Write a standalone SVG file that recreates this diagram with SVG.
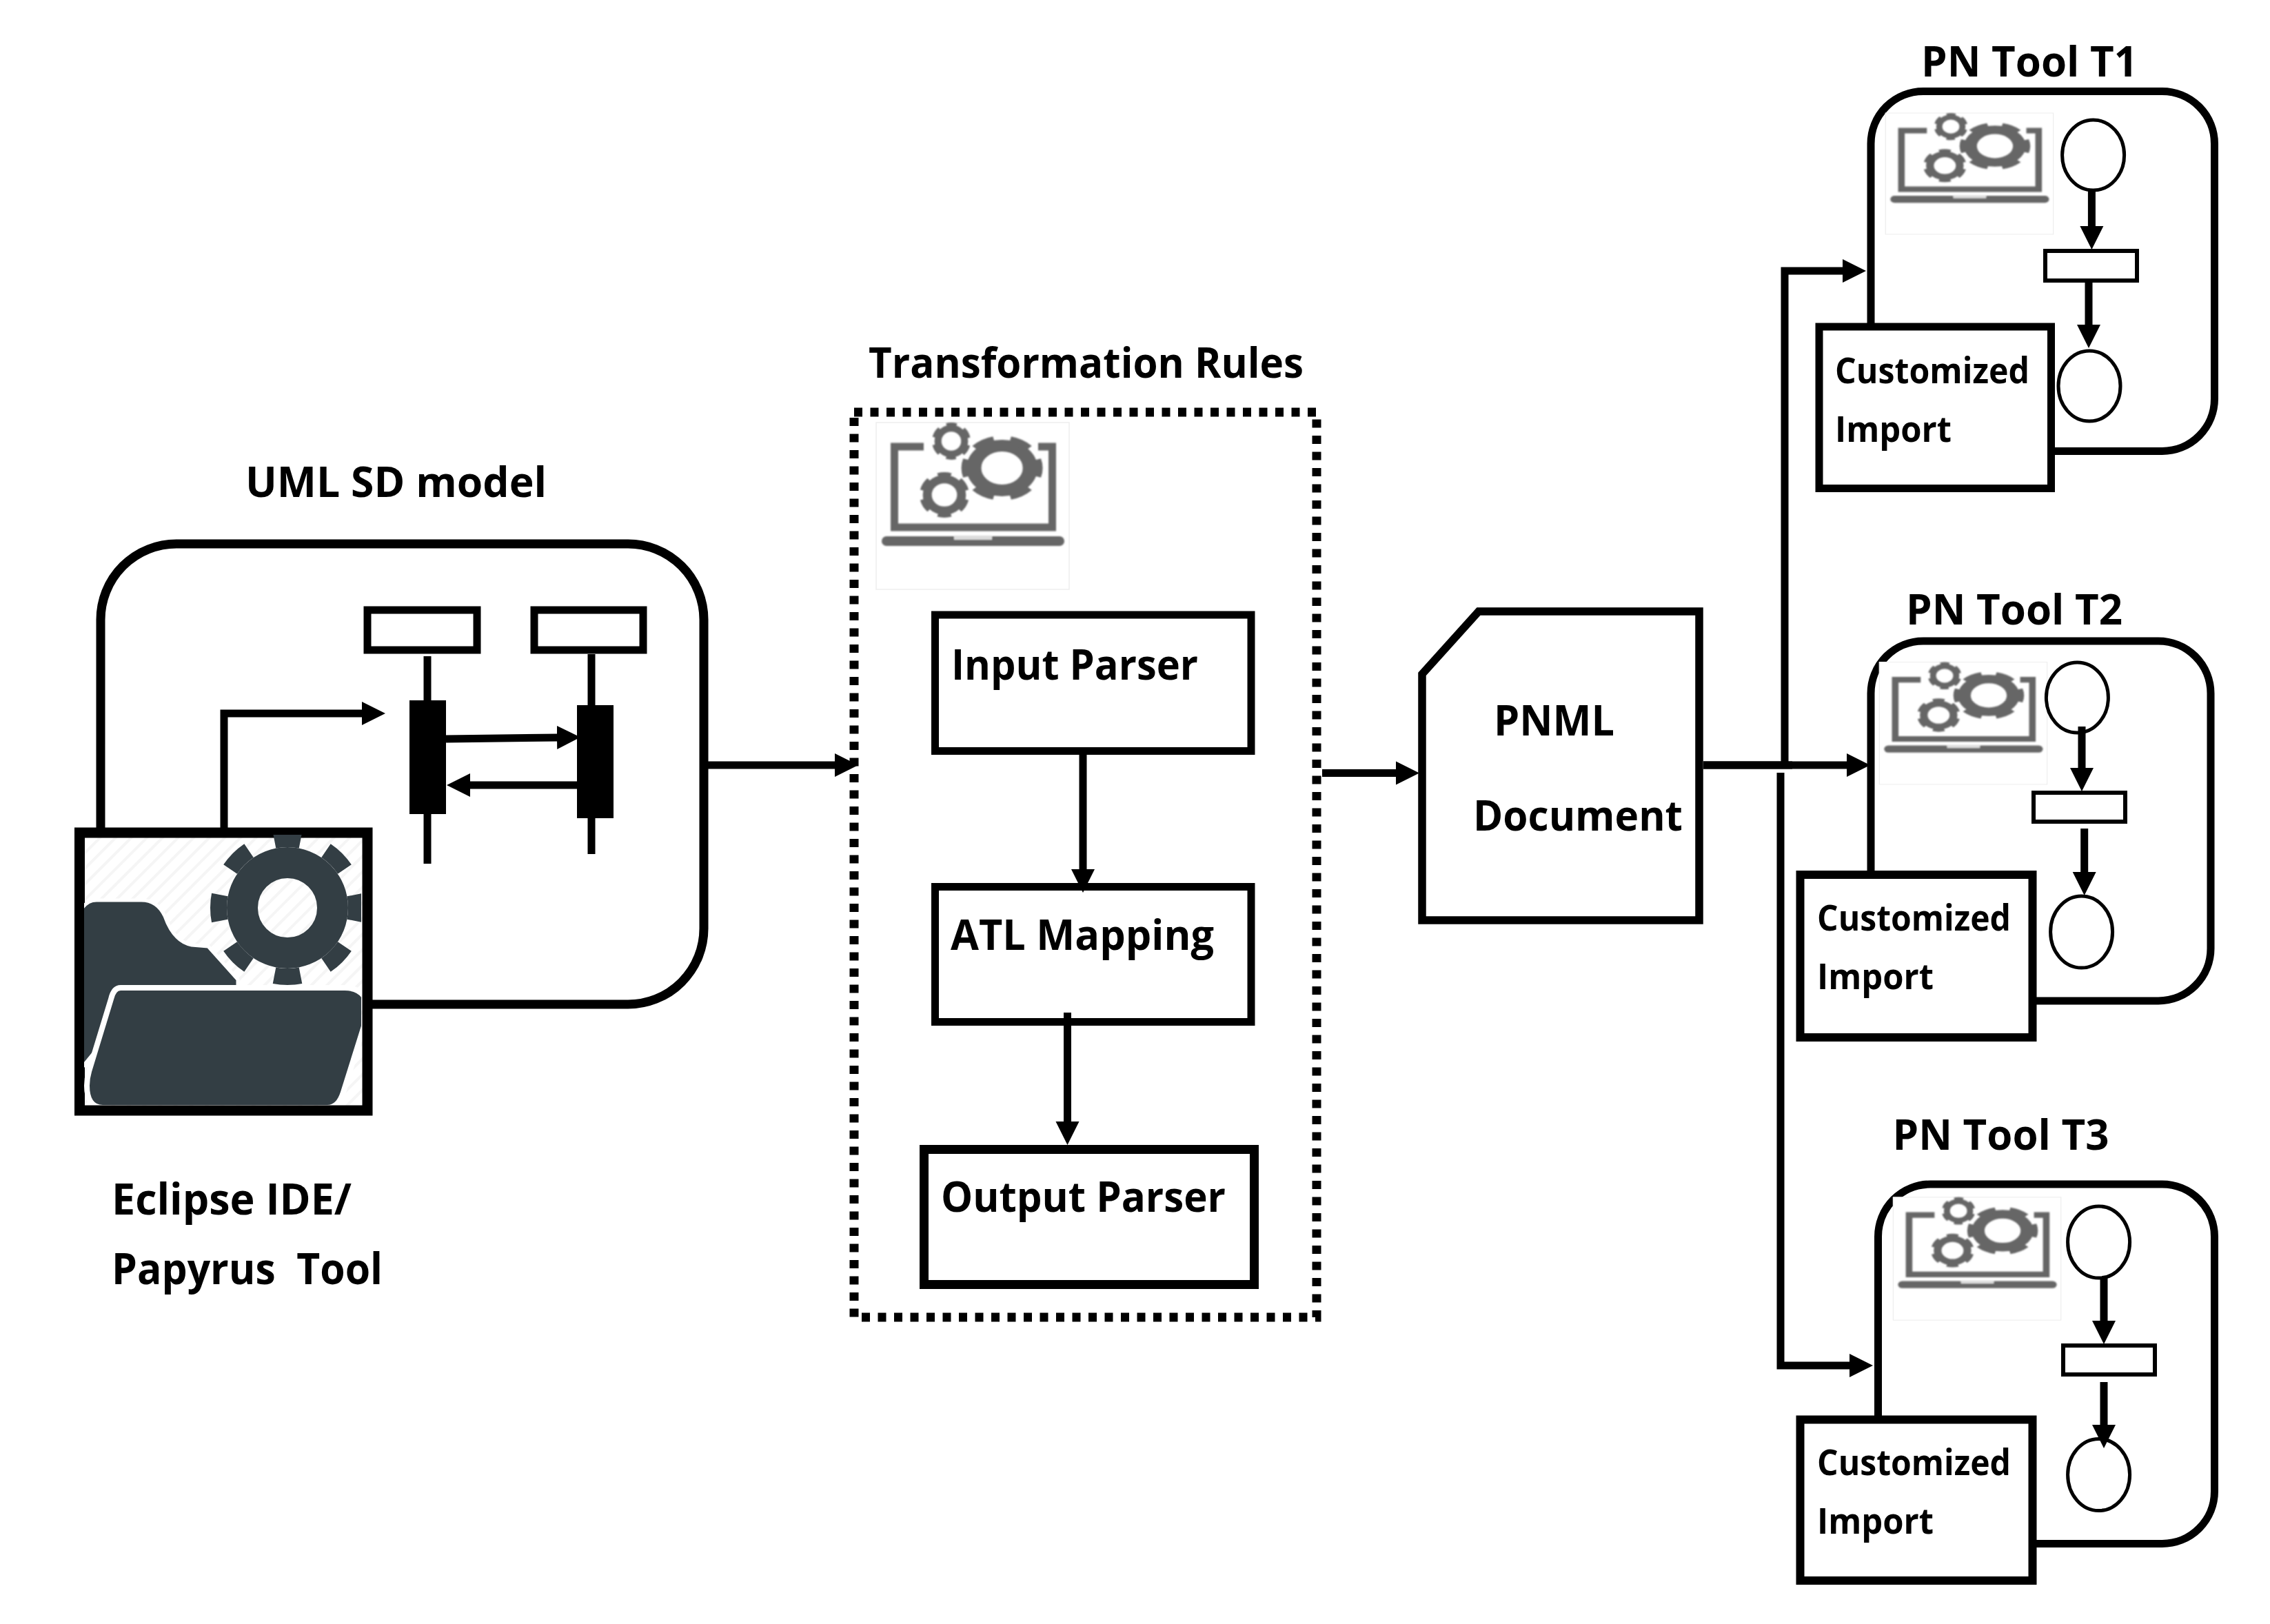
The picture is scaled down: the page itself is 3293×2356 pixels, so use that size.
<svg xmlns="http://www.w3.org/2000/svg" xmlns:xlink="http://www.w3.org/1999/xlink" width="3293" height="2356" viewBox="0 0 3293 2356">
<style>
text{font-family:"Open Sans","Noto Sans","Liberation Sans",sans-serif;fill:#000;white-space:pre}
.s600{font-weight:700;font-size:60px}
.s700{font-weight:700;font-size:62px}
.c{font-weight:700;font-size:52px}
.box{fill:#fff;stroke:#000;stroke-width:11}
.tool{fill:none;stroke:#000;stroke-width:11}
.place{fill:#fff;stroke:#000;stroke-width:5}
.trans{fill:#fff;stroke:#000;stroke-width:6}
.blk{fill:#000}
.conn{fill:none;stroke:#000;stroke-width:11;marker-end:url(#ah)}
.plain{fill:none;stroke:#000;stroke-width:11}
.ic{fill:#666}
.folder{fill:#333e44}
</style>
<defs>
<marker id="ah" markerUnits="userSpaceOnUse" markerWidth="36" markerHeight="36" viewBox="0 -18 36 36" refX="1" refY="0" orient="auto"><path d="M0,-17L34,0L0,17Z" fill="#000"/></marker>
<filter id="soft" x="-5%" y="-5%" width="110%" height="110%"><feGaussianBlur stdDeviation="1.2"/></filter>
<pattern id="hatch" patternUnits="userSpaceOnUse" width="16" height="16" patternTransform="rotate(45)"><rect width="16" height="16" fill="#fff"/><rect width="4" height="16" fill="#f5f5f5"/></pattern>
<clipPath id="fclip"><rect x="122" y="1211" width="402" height="392"/></clipPath>
<g id="gear6"><circle r="69" fill="none" stroke="#666" stroke-width="36"/><circle r="88" fill="none" stroke="#666" stroke-width="24" pathLength="360" stroke-dasharray="34 26" stroke-dashoffset="17"/></g>
<g id="icon">
<rect x="0" y="0" width="280" height="242" fill="#fff" stroke="#eee" stroke-width="1.5"/>
<g filter="url(#soft)">
<path d="M69,35H26.5V152H255.5V35H235" fill="none" stroke="#666" stroke-width="11"/>
<rect class="ic" x="8" y="165" width="265" height="14" rx="7"/>
<rect x="113" y="164" width="55" height="6" fill="#ddd"/>
<use xlink:href="#gear6" href="#gear6" transform="translate(182.6,66) scale(.59,.47)"/>
<use xlink:href="#gear6" href="#gear6" transform="translate(109,27) rotate(90) scale(.27,.28)"/>
<use xlink:href="#gear6" href="#gear6" transform="translate(99,105) rotate(90) scale(.33,.36)"/>
</g>
</g>
</defs>
<rect width="3293" height="2356" fill="#fff"/>

<g id="uml-sd-model">
<rect class="tool" style="stroke-width:13" x="146" y="789" width="875" height="668" rx="110"/>
<text class="s600" x="356" y="721" textLength="437" lengthAdjust="spacingAndGlyphs">UML SD model</text>
<rect class="box" x="533" y="885" width="159" height="58"/>
<rect class="box" x="775" y="885" width="158" height="58"/>
<rect class="blk" x="614.5" y="952" width="11" height="301"/>
<rect class="blk" x="852.5" y="949" width="11" height="290"/>
<rect class="blk" x="594" y="1016" width="53" height="165"/>
<rect class="blk" x="837" y="1023" width="53" height="164"/>
</g>

<g id="eclipse-papyrus">
<rect x="115.5" y="1208" width="417.5" height="403" fill="url(#hatch)" stroke="#000" stroke-width="15"/>
<g clip-path="url(#fclip)">
<circle cx="417" cy="1317" r="65.5" fill="none" stroke="#333e44" stroke-width="45"/>
<circle cx="417" cy="1317" r="100" fill="none" stroke="#333e44" stroke-width="24" pathLength="640" stroke-dasharray="39 41" stroke-dashoffset="19.5"/>
<path class="folder" stroke="#fff" stroke-width="5" d="M110,1340Q118,1306 140,1306H205Q228,1306 239,1329Q252,1366 278,1371L302,1373L345,1421V1480H175L122,1545L110,1560Z"/>
<path class="folder" stroke="#fff" stroke-width="16" paint-order="stroke" d="M175,1437H500Q530,1437 530,1469L494,1584Q488,1603 475,1603V1612H149V1603Q130,1603 130,1575Q130,1565 133,1555L165,1450Q168,1437 175,1437Z"/>
</g>
<text class="s700" x="162" y="1762" textLength="348" lengthAdjust="spacingAndGlyphs">Eclipse IDE/</text>
<text class="s700" x="162" y="1863" textLength="393" lengthAdjust="spacingAndGlyphs">Papyrus  Tool</text>
</g>

<g id="transformation-rules">
<text class="s600" x="1260" y="548" textLength="631" lengthAdjust="spacingAndGlyphs">Transformation Rules</text>
<rect x="1239" y="598" width="671" height="1313" fill="none" stroke="#000" stroke-width="13" stroke-dasharray="12 11.5"/>
<use xlink:href="#icon" href="#icon" transform="translate(1271,613)"/>
</g>
<g id="input-parser">
<rect class="box" x="1356.5" y="892" width="458.5" height="197.5"/>
<text class="s600" x="1380" y="986" textLength="358" lengthAdjust="spacingAndGlyphs">Input Parser</text>
</g>
<g id="atl-mapping">
<rect class="box" x="1356.5" y="1286.5" width="458.5" height="196"/>
<text class="s600" x="1379" y="1378" textLength="382" lengthAdjust="spacingAndGlyphs">ATL Mapping</text>
</g>
<g id="output-parser">
<rect class="box" style="stroke-width:13" x="1340.5" y="1667.5" width="479" height="196"/>
<text class="s600" x="1365" y="1758" textLength="413" lengthAdjust="spacingAndGlyphs">Output Parser</text>
</g>

<g id="pnml-document">
<path class="box" style="stroke-width:11.5" d="M2063,1335V978L2145,887H2465V1335Z"/>
<text class="s600" x="2167" y="1067" textLength="175" lengthAdjust="spacingAndGlyphs">PNML</text>
<text class="s600" x="2137" y="1205" textLength="304" lengthAdjust="spacingAndGlyphs">Document</text>
</g>

<g id="pn-tool-t1">
<text class="s600" x="2787" y="111" textLength="314" lengthAdjust="spacingAndGlyphs">PN Tool T1</text>
<rect class="tool" x="2714" y="132.5" width="498.5" height="522" rx="76"/>
<use xlink:href="#icon" href="#icon" transform="translate(2735.3,164) scale(.869,.727)"/>
<ellipse class="place" cx="3036.6" cy="225" rx="45" ry="51"/>
<rect class="trans" x="2967" y="364" width="133" height="43"/>
<ellipse class="place" cx="3031" cy="560" rx="45" ry="51"/>
<rect class="box" x="2639" y="474" width="336.5" height="234.5"/>
<text class="c" x="2662" y="556" textLength="282" lengthAdjust="spacingAndGlyphs">Customized</text>
<text class="c" x="2662" y="641" textLength="169" lengthAdjust="spacingAndGlyphs">Import</text>
</g>
<g id="pn-tool-t2">
<text class="s600" x="2765" y="906" textLength="314" lengthAdjust="spacingAndGlyphs">PN Tool T2</text>
<rect class="tool" x="2714" y="930" width="493" height="522" rx="76"/>
<use xlink:href="#icon" href="#icon" transform="translate(2726.3,960.5) scale(.869,.733)"/>
<ellipse class="place" cx="3013.4" cy="1012" rx="45" ry="51"/>
<rect class="trans" x="2950" y="1150" width="133" height="42"/>
<ellipse class="place" cx="3019.6" cy="1352" rx="45" ry="52"/>
<rect class="box" style="stroke-width:12" x="2611.5" y="1269" width="337" height="236"/>
<text class="c" x="2636" y="1350" textLength="281" lengthAdjust="spacingAndGlyphs">Customized</text>
<text class="c" x="2636" y="1435" textLength="169" lengthAdjust="spacingAndGlyphs">Import</text>
</g>
<g id="pn-tool-t3">
<text class="s600" x="2745.5" y="1668" textLength="314" lengthAdjust="spacingAndGlyphs">PN Tool T3</text>
<rect class="tool" x="2724.5" y="1718" width="488" height="521.5" rx="76"/>
<use xlink:href="#icon" href="#icon" transform="translate(2746.4,1736.8) scale(.869,.737)"/>
<ellipse class="place" cx="3044.6" cy="1802" rx="45" ry="52"/>
<rect class="trans" x="2993" y="1952" width="133" height="42"/>
<ellipse class="place" cx="3044.6" cy="2139.5" rx="45" ry="52"/>
<rect class="box" style="stroke-width:12" x="2611.5" y="2059.5" width="337" height="233.5"/>
<text class="c" x="2636" y="2140" textLength="281" lengthAdjust="spacingAndGlyphs">Customized</text>
<text class="c" x="2636" y="2225" textLength="169" lengthAdjust="spacingAndGlyphs">Import</text>
</g>

<g id="connectors">
<path class="conn" d="M325,1201V1035H526"/>
<path class="conn" d="M647,1072L809,1070"/>
<path class="conn" d="M837,1139H681"/>
<path class="conn" d="M1026,1110H1212"/>
<path class="conn" d="M1571,1095V1262"/>
<path class="conn" d="M1548.5,1469V1628"/>
<path class="conn" d="M1918,1121.5H2026"/>
<path class="plain" d="M2471,1110H2600"/>
<path class="conn" d="M2589,1110V393H2674"/>
<path class="conn" d="M2471,1110H2680"/>
<path class="conn" d="M2583,1121V1981H2684"/>
<path class="conn" d="M3034.4,276V329"/>
<path class="conn" d="M3030,409V472"/>
<path class="conn" d="M3020,1054V1115"/>
<path class="conn" d="M3023.7,1202V1266"/>
<path class="conn" d="M3052,1854V1917"/>
<path class="conn" d="M3052,2005V2068"/>
</g>
</svg>
